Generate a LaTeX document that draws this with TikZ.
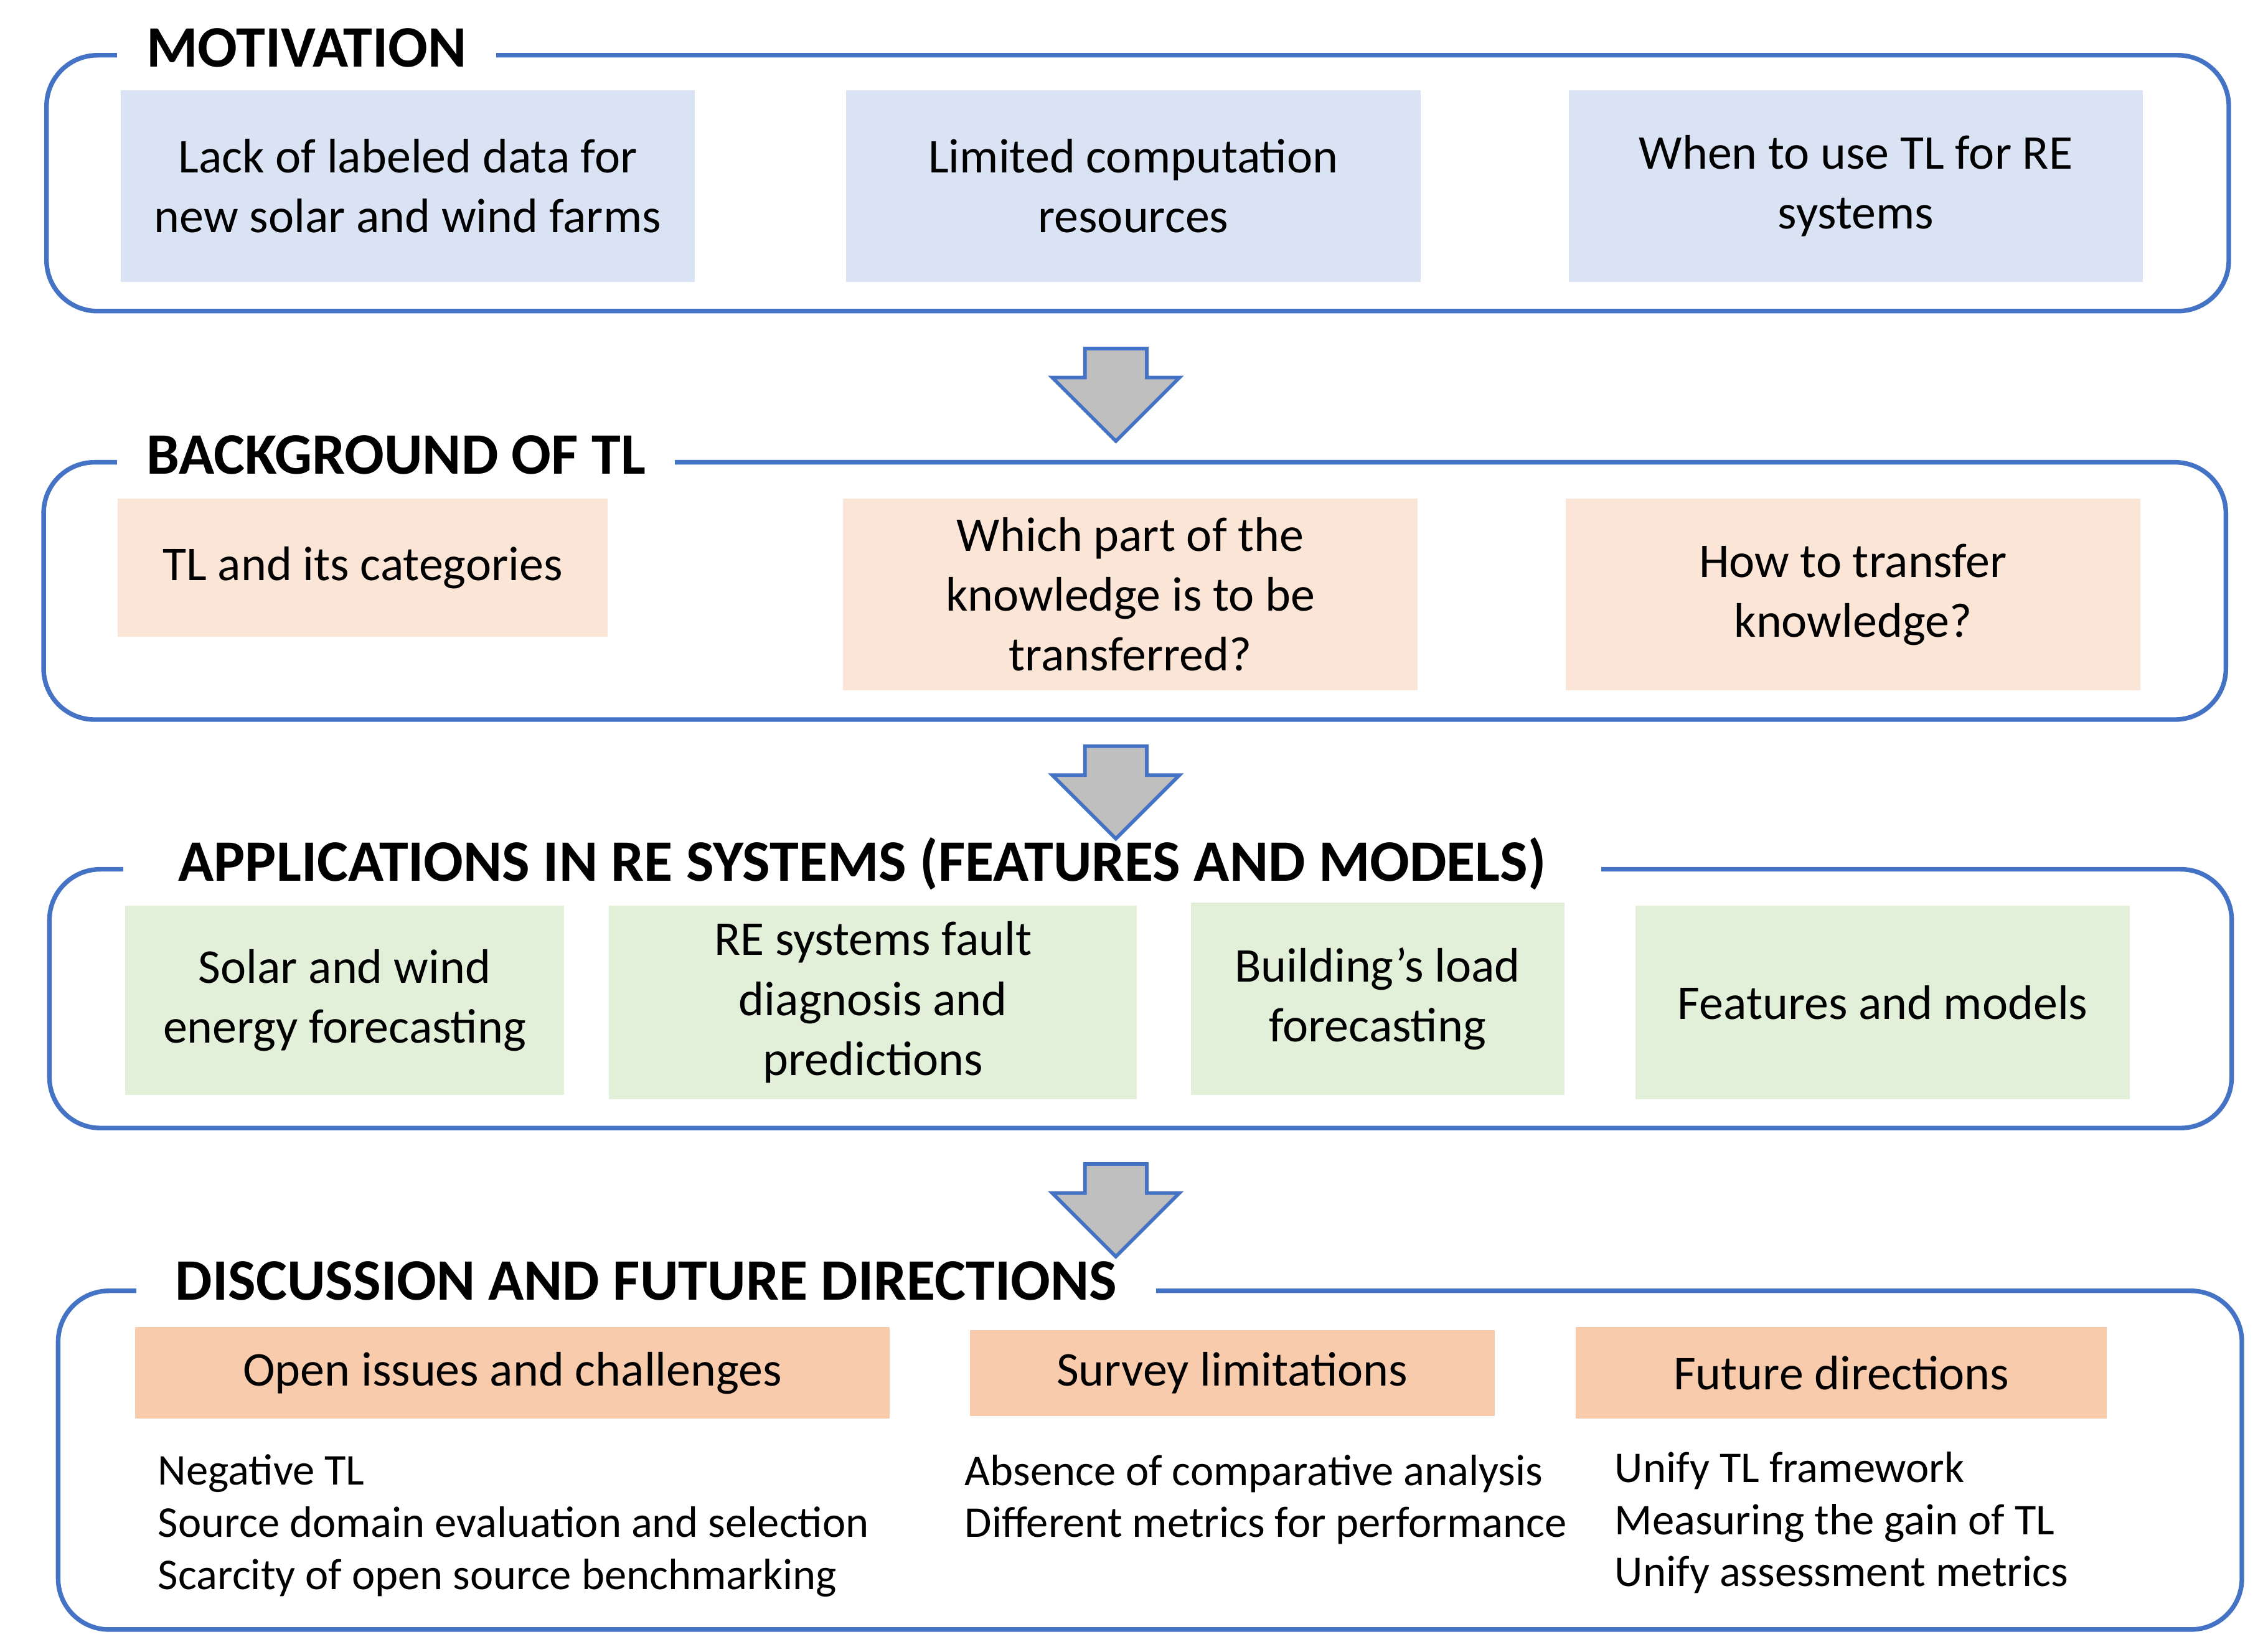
\documentclass[tikz,border=0pt]{standalone}
\usepackage{fontspec}
\setmainfont{Carlito}
\usetikzlibrary{shapes.arrows}
\definecolor{frameblue}{RGB}{68,114,196}
\definecolor{motfill}{RGB}{218,227,243}
\definecolor{bgfill}{RGB}{251,229,214}
\definecolor{appfill}{RGB}{226,240,217}
\definecolor{disfill}{RGB}{248,203,173}
\definecolor{arrowgray}{RGB}{191,191,191}
\begin{document}
\begin{tikzpicture}[
		frame/.style={draw=frameblue,line width=0.9pt,rounded corners=0.35cm,minimum width=15.01cm},
		box/.style={align=center,font=\fontsize{9.5}{11.7}\selectfont,inner sep=0pt},
		title/.style={fill=white,anchor=west,font=\fontsize{11.5}{13}\selectfont\bfseries,inner xsep=0.2cm},
		list/.style={anchor=north west,align=left,font=\fontsize{8.6}{10.2}\selectfont,inner sep=0pt},
		down/.style={single arrow,draw=frameblue,fill=arrowgray,shape border rotate=270,
			minimum width=0.85cm,minimum height=0.52cm,single arrow head extend=0.225cm,inner sep=0.2cm,line width=0.7pt}
		]
		\useasboundingbox (0,0) rectangle (15.6,-11.33);
		% frames
		\node[frame,minimum height=1.76cm] (fMot) at (7.825,-1.26) {};
		\node[frame,minimum height=1.77cm] (fBack) at (7.805,-4.065) {};
		\node[frame,minimum height=1.78cm] (fApp) at (7.845,-6.87) {};
		\node[frame,minimum height=2.33cm,minimum width=15.02cm] (fDis) at (7.91,-10.045) {};
		\node[title] (tMot) at (0.80,-0.33) {MOTIVATION\hspace{0.35cm}};
		\node[title] (tBack) at (0.80,-3.13) {BACKGROUND OF TL\hspace{0.37cm}};
		\node[title,inner xsep=0.38cm] (tApp) at (0.84,-5.94) {APPLICATIONS IN RE SYSTEMS (FEATURES AND MODELS)\hspace{0.3cm}};
		\node[title,inner xsep=0.27cm] (tDis) at (0.93,-8.81) {DISCUSSION AND FUTURE DIRECTIONS\hspace{0.3cm}};
		% motivation
		\node[box,fill=motfill,minimum width=3.95cm,minimum height=1.32cm] (lack) at (2.805,-1.28) {Lack of labeled data for\\new solar and wind farms};
		\node[box,fill=motfill,minimum width=3.95cm,minimum height=1.32cm] (limited) at (7.795,-1.28) {Limited computation\\resources};
		\node[box,fill=motfill,minimum width=3.95cm,minimum height=1.32cm] (when) at (12.765,-1.28) {When to use TL for RE\\systems};
		% background
		\node[box,fill=bgfill,minimum width=3.37cm,minimum height=0.95cm] (categories) at (2.495,-3.905) {TL and its categories};
		\node[box,fill=bgfill,minimum width=3.95cm,minimum height=1.32cm] (which) at (7.775,-4.09) {Which part of the\\knowledge is to be\\transferred?};
		\node[box,fill=bgfill,minimum width=3.95cm,minimum height=1.32cm] (how) at (12.745,-4.09) {How to transfer\\knowledge?};
		% applications
		\node[box,fill=appfill,minimum width=3.02cm,minimum height=1.30cm] (solar) at (2.37,-6.88) {Solar and wind\\energy forecasting};
		\node[box,fill=appfill,minimum width=3.63cm,minimum height=1.33cm] (fault) at (6.005,-6.895) {RE systems fault\\diagnosis and\\predictions};
		\node[box,fill=appfill,minimum width=2.57cm,minimum height=1.32cm] (load) at (9.475,-6.87) {Building’s load\\forecasting};
		\node[box,fill=appfill,minimum width=3.40cm,minimum height=1.33cm] (features) at (12.95,-6.895) {Features and models};
		% discussion
		\node[box,fill=disfill,minimum width=5.19cm,minimum height=0.63cm] (open) at (3.525,-9.445) {Open issues and challenges};
		\node[box,fill=disfill,minimum width=3.61cm,minimum height=0.59cm] (survey) at (8.475,-9.445) {Survey limitations};
		\node[box,fill=disfill,minimum width=3.65cm,minimum height=0.63cm] (future) at (12.665,-9.445) {Future directions};
		\node[list] (openList) at (1.08,-10.0) {Negative TL\\Source domain evaluation and selection\\Scarcity of open source benchmarking};
		\node[list] (surveyList) at (6.63,-10.0) {Absence of comparative analysis\\Different metrics for performance};
		\node[list] (futureList) at (11.10,-9.98) {Unify TL framework\\Measuring the gain of TL\\Unify assessment metrics};
		% arrows
		\node[down] (a1) at (7.675,-2.61) {};
		\node[down] (a2) at (7.675,-5.345) {};
		\node[down] (a3) at (7.675,-8.22) {};
	\end{tikzpicture}
\end{document}
